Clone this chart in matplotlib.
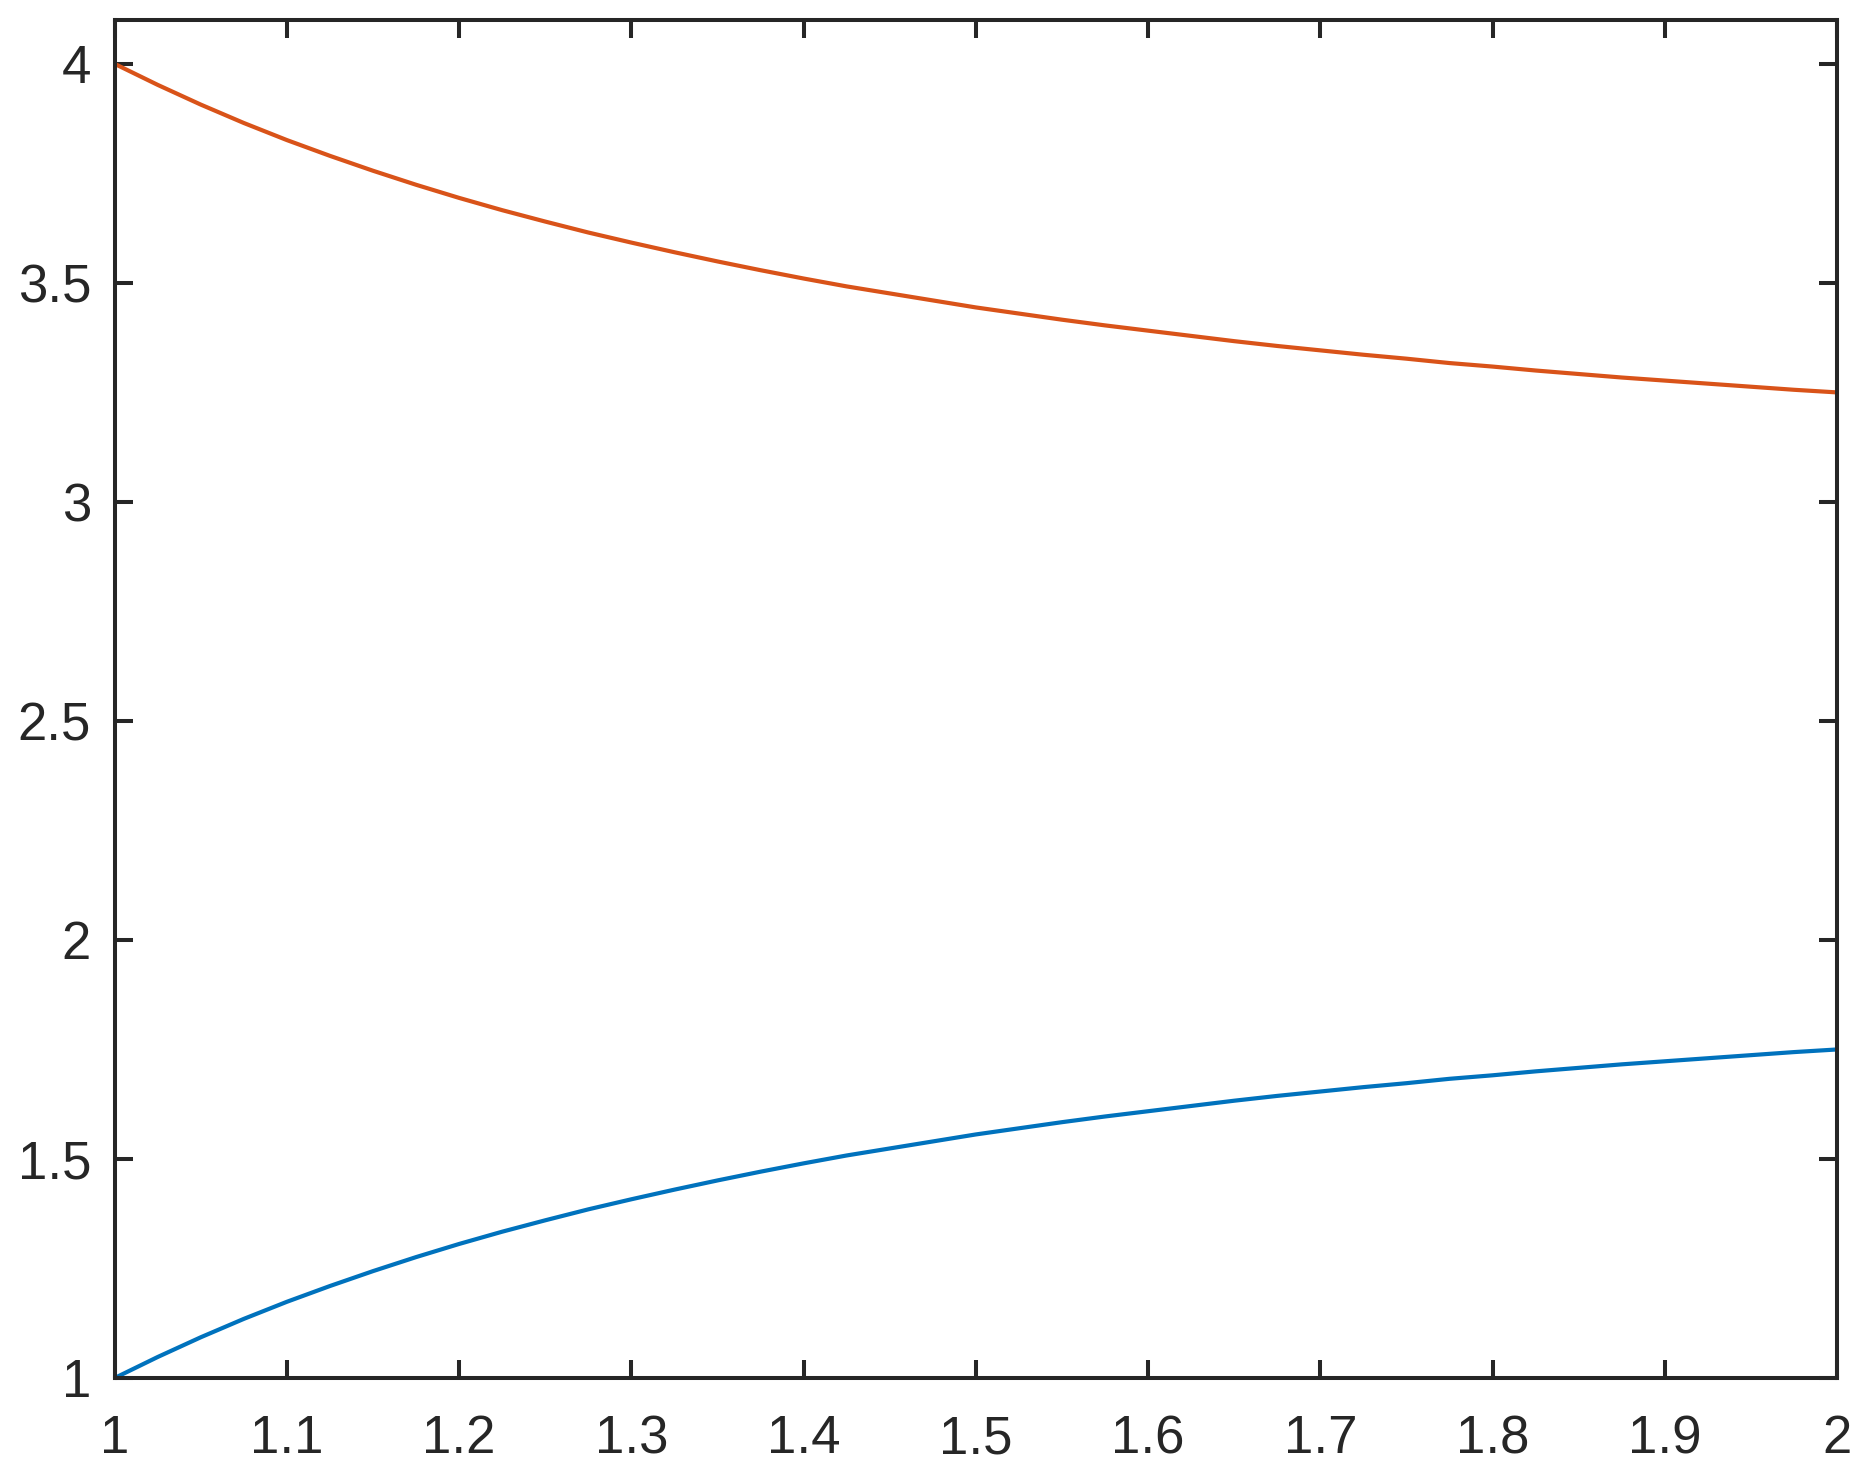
import matplotlib
matplotlib.use('Agg')
import matplotlib.pyplot as plt

# values, every 0.025 in x
x = [1.000, 1.025, 1.050, 1.075, 1.100, 1.125, 1.150, 1.175, 1.200, 1.225,
     1.250, 1.275, 1.300, 1.325, 1.350, 1.375, 1.400, 1.425, 1.450, 1.475,
     1.500, 1.525, 1.550, 1.575, 1.600, 1.625, 1.650, 1.675, 1.700, 1.725,
     1.750, 1.775, 1.800, 1.825, 1.850, 1.875, 1.900, 1.925, 1.950, 1.975, 2.000]
lower = [1.000, 1.048, 1.093, 1.135, 1.174, 1.210, 1.244, 1.276, 1.306, 1.334,
         1.360, 1.385, 1.408, 1.430, 1.451, 1.471, 1.490, 1.508, 1.524, 1.540,
         1.556, 1.570, 1.584, 1.597, 1.609, 1.621, 1.633, 1.644, 1.654, 1.664,
         1.673, 1.683, 1.691, 1.700, 1.708, 1.716, 1.723, 1.730, 1.737, 1.744, 1.750]
upper = [4.000, 3.952, 3.907, 3.865, 3.826, 3.790, 3.756, 3.724, 3.694, 3.666,
         3.640, 3.615, 3.592, 3.570, 3.549, 3.529, 3.510, 3.492, 3.476, 3.460,
         3.444, 3.430, 3.416, 3.403, 3.391, 3.379, 3.367, 3.356, 3.346, 3.336,
         3.327, 3.317, 3.309, 3.300, 3.292, 3.284, 3.277, 3.270, 3.263, 3.256, 3.250]
xticks = [1.0, 1.1, 1.2, 1.3, 1.4, 1.5, 1.6, 1.7, 1.8, 1.9, 2.0]
yticks = [1.0, 1.5, 2.0, 2.5, 3.0, 3.5, 4.0]

plt.rcParams['font.family'] = ['Liberation Sans', 'DejaVu Sans']
edge = '#262626'

fig = plt.figure(figsize=(18.68, 14.76), dpi=100)
ax = fig.add_axes([0.0614, 0.0664, 0.9834 - 0.0614, 0.9864 - 0.0664])

ax.plot(x, lower, color='#0072BD', linewidth=3.0)
ax.plot(x, upper, color='#D95319', linewidth=3.0)

ax.set_xlim(1, 2)
ax.set_ylim(1, 4.1)
ax.set_xticks(xticks)
ax.set_yticks(yticks)

def fmt(v, pos):
    return '%g' % v
ax.xaxis.set_major_formatter(plt.FuncFormatter(fmt))
ax.yaxis.set_major_formatter(plt.FuncFormatter(fmt))

for sp in ax.spines.values():
    sp.set_color(edge)
    sp.set_linewidth(2.9)
ax.tick_params(direction='in', length=13, width=2.9, color=edge,
               labelsize=38, labelcolor=edge, top=True, right=True)
ax.tick_params(axis='y', pad=17)
ax.tick_params(axis='x', pad=26)

fig.savefig('out.png', dpi=100)
